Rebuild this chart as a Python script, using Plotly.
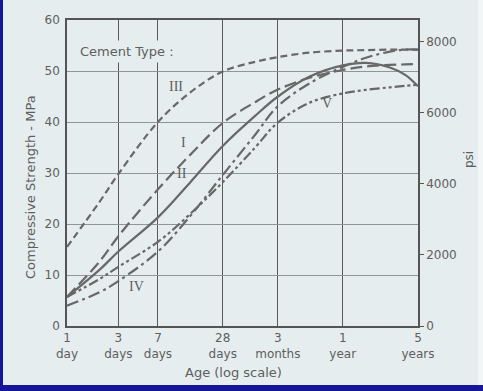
import math
import plotly.graph_objects as go

# ---- data (age in days, strength in MPa) ----
age_days = [1, 2, 3, 7, 14, 28, 56, 90, 180, 365, 600, 1000, 1400, 1826]

type_I   = [5.7, 12.6, 17.6, 26.8, 33.6, 39.8, 43.9, 46.3, 48.7, 50.2, 50.9, 51.2, 51.3, 51.4]
type_II  = [5.7, 11.0, 14.6, 21.3, 28.2, 35.3, 41.2, 44.9, 48.9, 51.1, 51.6, 50.7, 49.2, 47.0]
type_III = [15.5, 24.3, 29.8, 40.0, 45.8, 49.9, 51.8, 52.7, 53.6, 54.0, 54.1, 54.2, 54.2, 54.2]
type_IV  = [4.0, 6.6, 8.8, 14.6, 21.6, 29.6, 37.5, 43.0, 47.6, 50.8, 52.6, 53.8, 54.2, 54.2]
type_V   = [5.7, 9.2, 11.6, 16.5, 22.0, 28.2, 35.0, 39.8, 43.8, 45.6, 46.3, 46.8, 47.1, 47.3]

x_tick_vals = [1, 3, 7, 28, 91, 365, 1826]
x_tick_text = ["1<br>day", "3<br>days", "7<br>days", "28<br>days",
               "3<br>months", "1<br>year", "5<br>years"]
psi_ticks = [0, 2000, 4000, 6000, 8000]

# ---- style ----
BG = "#e5edee"
LINE = "#686868"
TXT = "#5e5e5e"
FONT = "DejaVu Sans"
W, H = 483, 391
L, R, T, B = 67, 65, 20, 65
PW, PH = W - L - R, H - T - B

def px2paper(px, py):
    return (px - L) / PW, (H - B - py) / PH

series = [
    ("I", type_I, "12px,5px"),
    ("II", type_II, "solid"),
    ("III", type_III, "7px,4px"),
    ("IV", type_IV, "12px,4px,3px,4px"),
    ("V", type_V, "10px,3px,3px,3px,3px,3px"),
]

fig = go.Figure()
for name, vals, dash in series:
    fig.add_trace(go.Scatter(
        x=age_days, y=vals, mode="lines", name=name,
        line=dict(color=LINE, width=2.2, dash=dash, shape="spline", smoothing=1.0),
        showlegend=False, hoverinfo="skip"))

# invisible trace to carry the psi axis
fig.add_trace(go.Scatter(x=[1], y=[0], yaxis="y2", mode="markers",
                         marker=dict(opacity=0), showlegend=False, hoverinfo="skip"))

fig.update_layout(
    width=W, height=H,
    margin=dict(l=L, r=R, t=T, b=B, autoexpand=False),
    paper_bgcolor=BG, plot_bgcolor=BG,
    font=dict(family=FONT, size=12, color=TXT),
    xaxis=dict(type="log", range=[0, math.log10(1826)],
               tickvals=x_tick_vals, ticktext=x_tick_text,
               showgrid=True, gridcolor="#5a5a5a", gridwidth=1.2,
               showline=True, mirror=True, linecolor="#555555", linewidth=1.5,
               ticks="", zeroline=False,
               tickfont=dict(family=FONT, size=12, color=TXT)),
    yaxis=dict(range=[0, 60], dtick=10,
               showgrid=True, gridcolor="#8e9696", gridwidth=1,
               showline=True, mirror=False, linecolor="#555555", linewidth=1.5,
               ticks="outside", ticklen=3, tickcolor=BG, zeroline=False,
               tickfont=dict(family=FONT, size=12, color=TXT)),
    yaxis2=dict(overlaying="y", side="right", range=[0, 8600],
                tickvals=psi_ticks, showgrid=False, zeroline=False,
                showline=True, linecolor="#555555", linewidth=1.5,
                ticks="outside", ticklen=4, tickcolor="#555555",
                tickfont=dict(family=FONT, size=12, color=TXT)),
)

ann = []
def add_label(text, days, mpa, size=14, font="Liberation Serif"):
    ann.append(dict(x=math.log10(days), y=mpa, xref="x", yref="y", text=text,
                    showarrow=False, font=dict(family=font, size=size, color=TXT)))

add_label("III", 10.3, 46.9)
add_label("I", 12.0, 35.9)
add_label("II", 11.7, 30.0)
add_label("IV", 4.47, 7.8)
add_label("V", 261, 43.7)

ann.append(dict(x=math.log10(3.59), y=53.8, xref="x", yref="y", text="Cement Type :",
                showarrow=False, bgcolor=BG, borderpad=3,
                font=dict(family=FONT, size=13, color=TXT)))

x, y = px2paper(30, 187)
ann.append(dict(x=x, y=y, xref="paper", yref="paper", text="Compressive Strength - MPa",
                xanchor="center", yanchor="middle",
                textangle=-90, showarrow=False, font=dict(family=FONT, size=13, color=TXT)))
x, y = px2paper(469, 160)
ann.append(dict(x=x, y=y, xref="paper", yref="paper", text="psi",
                xanchor="center", yanchor="middle",
                textangle=-90, showarrow=False, font=dict(family=FONT, size=12, color=TXT)))
x, y = px2paper(233, 373)
ann.append(dict(x=x, y=y, xref="paper", yref="paper", text="Age (log scale)",
                xanchor="center", yanchor="middle",
                showarrow=False, font=dict(family=FONT, size=13, color=TXT)))
fig.update_layout(annotations=ann)

# scan frame
x0, y0 = px2paper(0, 391)
x1, y1 = px2paper(483, 0)
xl, _ = px2paper(3, 0)
_, yb = px2paper(0, 385)
xr, _ = px2paper(478, 0)
fig.update_layout(shapes=[
    dict(type="rect", xref="paper", yref="paper", x0=x0, x1=xl, y0=y0, y1=y1,
         fillcolor="#16169a", line=dict(width=0)),
    dict(type="rect", xref="paper", yref="paper", x0=x0, x1=x1, y0=y0, y1=yb,
         fillcolor="#16169a", line=dict(width=0)),
    dict(type="rect", xref="paper", yref="paper", x0=xr, x1=x1, y0=yb, y1=y1,
         fillcolor="#f3f6f6", line=dict(width=0)),
])

fig.write_html(
    "out.html",
    config={"displayModeBar": False},
    post_script=("document.body.style.margin='0';"
                 "document.body.style.overflow='hidden';"
                 "document.body.style.background='" + BG + "';"),
)
